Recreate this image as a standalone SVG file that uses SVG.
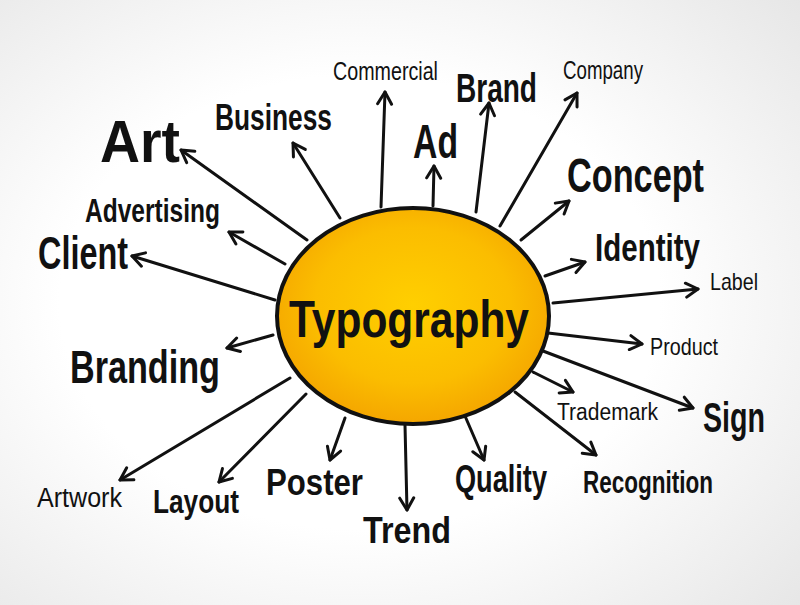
<svg xmlns="http://www.w3.org/2000/svg" width="800" height="605" viewBox="0 0 800 605">
<defs>
<radialGradient id="bg" cx="0.45" cy="0.5" r="0.75">
<stop offset="0.5" stop-color="#ffffff"/>
<stop offset="1" stop-color="#e6e6e6"/>
</radialGradient>
<radialGradient id="orb" cx="0.5" cy="0.45" r="0.6">
<stop offset="0" stop-color="#ffcf00"/>
<stop offset="0.6" stop-color="#fbbd00"/>
<stop offset="1" stop-color="#f3a000"/>
</radialGradient>
<marker id="ah" viewBox="-14 -9 16 18" markerWidth="16" markerHeight="18" refX="0" refY="0" orient="auto" markerUnits="userSpaceOnUse">
<path d="M -12 -7 L 0 0 L -12 7" fill="none" stroke="#111" stroke-width="3" stroke-linecap="round" stroke-linejoin="round"/>
</marker>
</defs>
<style>
.c line{stroke:#111;stroke-width:3;stroke-linecap:round;marker-end:url(#ah)}
text{font-family:"Liberation Sans","Open Sans",sans-serif;fill:#111}
.b{font-weight:700}
.n{font-weight:400}
</style>
<rect width="800" height="605" fill="url(#bg)"/>
<g class="c" id="connectors">
<line x1="307" y1="240" x2="181" y2="150"/>
<line x1="340" y1="218" x2="293" y2="143"/>
<line x1="381" y1="207" x2="385" y2="92"/>
<line x1="433" y1="206" x2="434" y2="166"/>
<line x1="476" y1="212" x2="489" y2="103"/>
<line x1="500" y1="226" x2="577" y2="93"/>
<line x1="521" y1="240" x2="569" y2="201"/>
<line x1="545" y1="276" x2="585" y2="262"/>
<line x1="553" y1="303" x2="698" y2="289"/>
<line x1="548" y1="333" x2="642" y2="344"/>
<line x1="543" y1="351" x2="693" y2="408"/>
<line x1="533" y1="372" x2="573" y2="392"/>
<line x1="515" y1="392" x2="596" y2="455"/>
<line x1="465" y1="416" x2="484" y2="460"/>
<line x1="405" y1="425" x2="407" y2="510"/>
<line x1="345" y1="418" x2="330" y2="460"/>
<line x1="306" y1="394" x2="219" y2="482"/>
<line x1="290" y1="378" x2="120" y2="480"/>
<line x1="273" y1="335" x2="227" y2="348"/>
<line x1="275" y1="300" x2="132" y2="256"/>
<line x1="285" y1="264" x2="229" y2="232"/>
</g>
<g id="center">
<ellipse cx="413" cy="316" rx="136" ry="108" fill="url(#orb)" stroke="#111" stroke-width="4"/>
<text class="b" x="289" y="337" font-size="52" textLength="240" lengthAdjust="spacingAndGlyphs">Typography</text>
</g>
<g id="art"><text class="b" x="100" y="162" font-size="60" textLength="80" lengthAdjust="spacingAndGlyphs">Art</text></g>
<g id="business"><text class="b" x="215" y="130" font-size="36" textLength="117" lengthAdjust="spacingAndGlyphs">Business</text></g>
<g id="commercial"><text class="n" x="333" y="80" font-size="25" textLength="105" lengthAdjust="spacingAndGlyphs">Commercial</text></g>
<g id="ad"><text class="b" x="413" y="158" font-size="48" textLength="45" lengthAdjust="spacingAndGlyphs">Ad</text></g>
<g id="brand"><text class="b" x="456" y="102" font-size="40" textLength="81" lengthAdjust="spacingAndGlyphs">Brand</text></g>
<g id="company"><text class="n" x="563" y="79" font-size="26" textLength="80" lengthAdjust="spacingAndGlyphs">Company</text></g>
<g id="concept"><text class="b" x="567" y="192" font-size="48" textLength="137" lengthAdjust="spacingAndGlyphs">Concept</text></g>
<g id="identity"><text class="b" x="595" y="261" font-size="39" textLength="105" lengthAdjust="spacingAndGlyphs">Identity</text></g>
<g id="label"><text class="n" x="710" y="290" font-size="24" textLength="48" lengthAdjust="spacingAndGlyphs">Label</text></g>
<g id="product"><text class="n" x="650" y="355" font-size="24" textLength="68" lengthAdjust="spacingAndGlyphs">Product</text></g>
<g id="sign"><text class="b" x="703" y="432" font-size="42" textLength="62" lengthAdjust="spacingAndGlyphs">Sign</text></g>
<g id="trademark"><text class="n" x="557" y="420" font-size="23" textLength="101" lengthAdjust="spacingAndGlyphs">Trademark</text></g>
<g id="recognition"><text class="b" x="583" y="493" font-size="32" textLength="130" lengthAdjust="spacingAndGlyphs">Recognition</text></g>
<g id="quality"><text class="b" x="455" y="492" font-size="38" textLength="92" lengthAdjust="spacingAndGlyphs">Quality</text></g>
<g id="trend"><text class="b" x="363" y="543" font-size="37" textLength="88" lengthAdjust="spacingAndGlyphs">Trend</text></g>
<g id="poster"><text class="b" x="266" y="495" font-size="37" textLength="97" lengthAdjust="spacingAndGlyphs">Poster</text></g>
<g id="layout"><text class="b" x="153" y="513" font-size="33" textLength="86" lengthAdjust="spacingAndGlyphs">Layout</text></g>
<g id="artwork"><text class="n" x="37" y="507" font-size="27" textLength="85" lengthAdjust="spacingAndGlyphs">Artwork</text></g>
<g id="branding"><text class="b" x="70" y="383" font-size="47" textLength="150" lengthAdjust="spacingAndGlyphs">Branding</text></g>
<g id="client"><text class="b" x="38" y="269" font-size="46" textLength="90" lengthAdjust="spacingAndGlyphs">Client</text></g>
<g id="advertising"><text class="b" x="85" y="222" font-size="33" textLength="135" lengthAdjust="spacingAndGlyphs">Advertising</text></g>
</svg>
